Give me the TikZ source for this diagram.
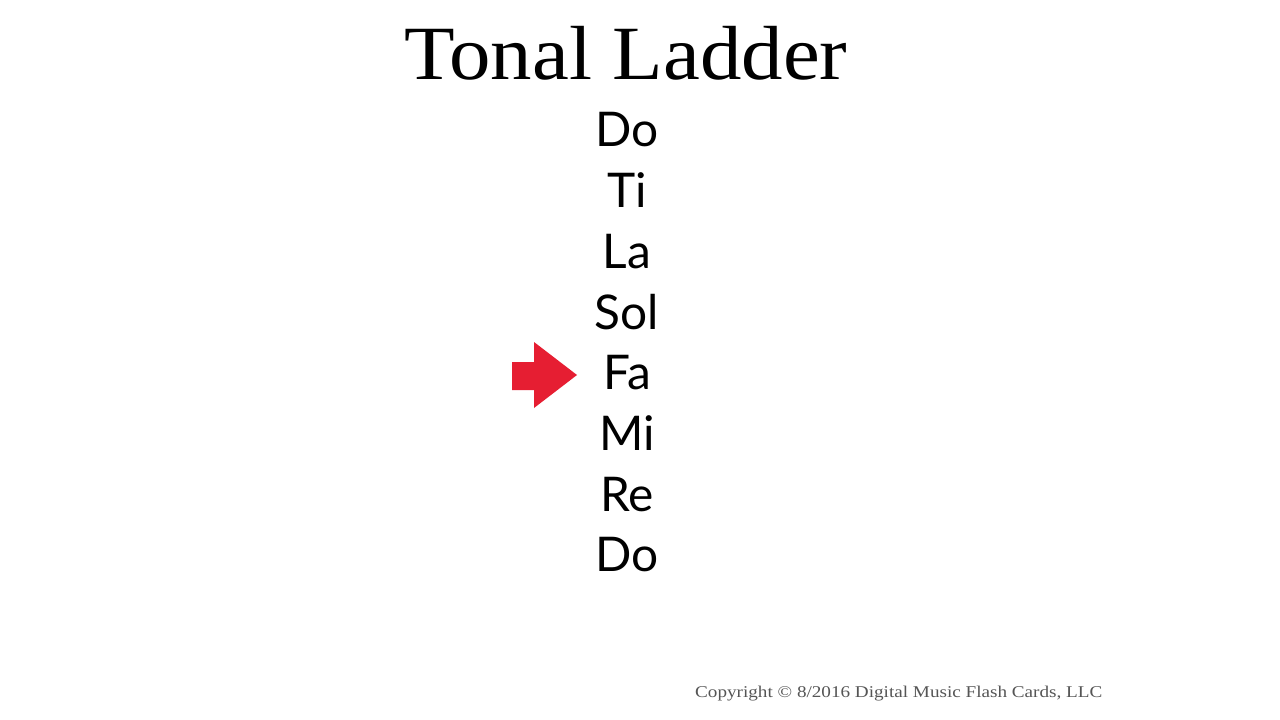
\documentclass[tikz,border=0pt]{standalone}
\usepackage{fontspec}
\newfontfamily\ladderfont{Lato}
\newfontfamily\titlefont[FakeStretch=1.08]{Liberation Serif}
\newfontfamily\notefont[FakeStretch=1.165]{Liberation Serif}
\usetikzlibrary{positioning}

\definecolor{arrowred}{HTML}{E61E32}
\definecolor{notegray}{HTML}{555555}

\tikzset{
  syllable/.style={font=\ladderfont\fontsize{48}{48}\selectfont, anchor=base, inner sep=0pt},
  heading/.style={font=\titlefont\fontsize{77}{77}\selectfont, anchor=base, inner sep=0pt},
  note/.style={font=\notefont\fontsize{16.5}{16.5}\selectfont, text=notegray, anchor=base west, inner sep=0pt}
}

\begin{document}
\begin{tikzpicture}[x=1bp, y=-1bp]
  \useasboundingbox[fill=white] (0,0) rectangle (1280,720);

  \node[heading] (title) at (626,80) {Tonal Ladder};

  % the ladder, top to bottom
  \foreach \s [count=\i] in {Do,Ti,La,Sol,Fa,Mi,Re,Do}
    \node[syllable] (step\i) at (627,{147+60.7*(\i-1)}) {\s};

  % pointer at the current step
  \fill[arrowred] (512,362) -- (534,362) -- (534,342) -- (577,375)
    -- (534,408) -- (534,390) -- (512,390) -- cycle;

  \node[note] (copy) at (695,697) {Copyright \textcopyright{} 8/2016 Digital Music Flash Cards, LLC};
\end{tikzpicture}
\end{document}
